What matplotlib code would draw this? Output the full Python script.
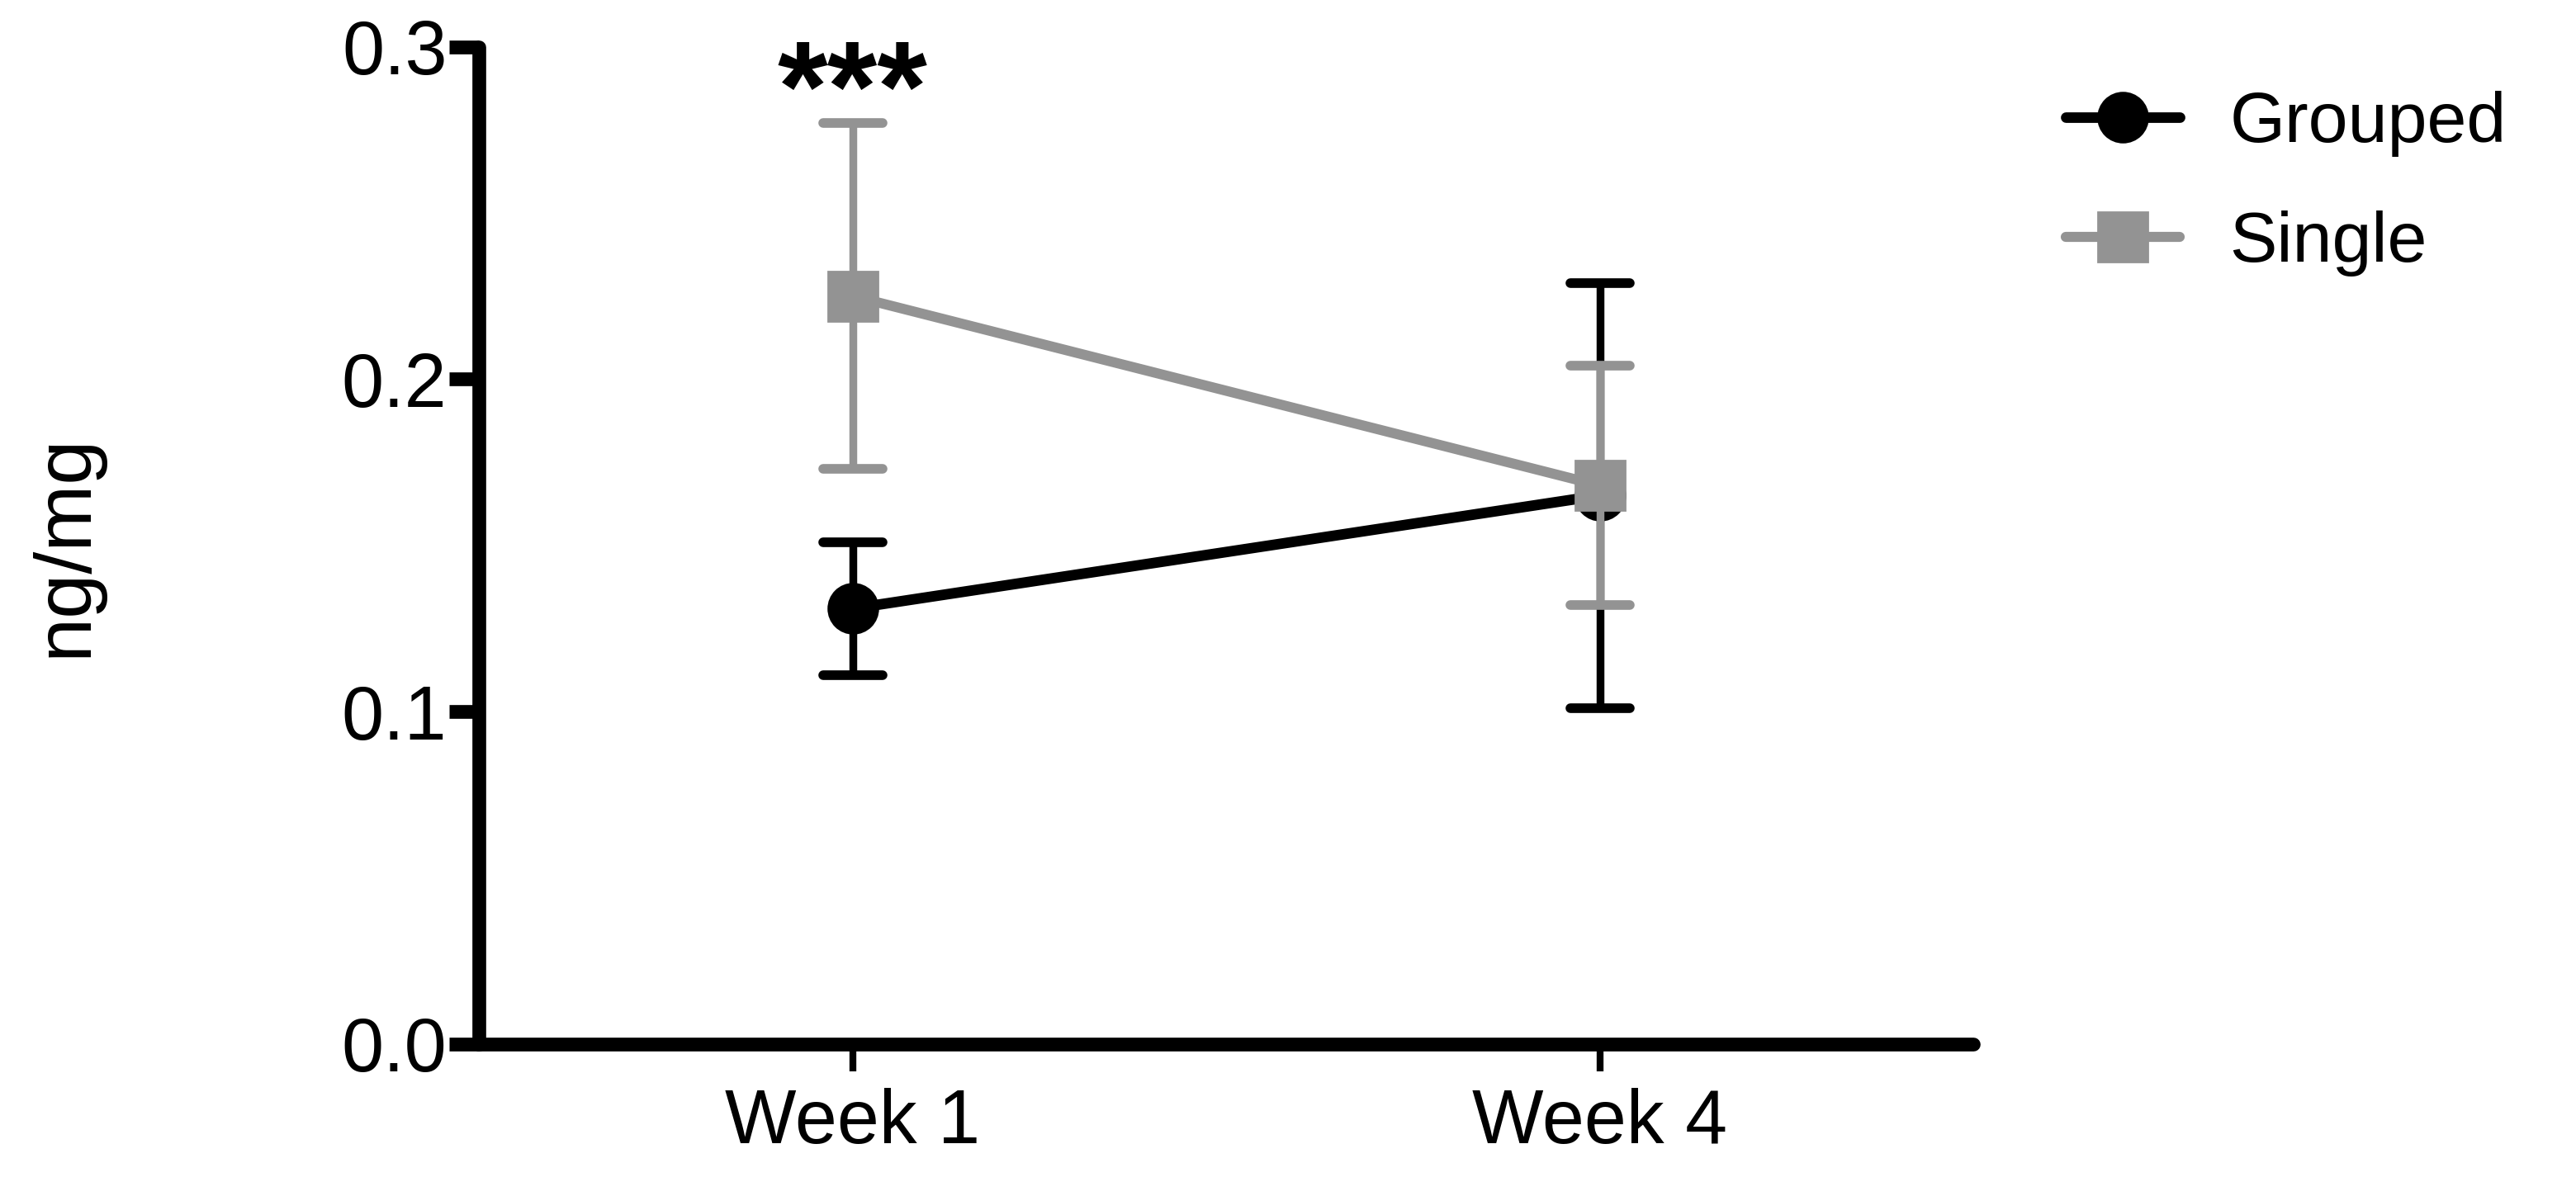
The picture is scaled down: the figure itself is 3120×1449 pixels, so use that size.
import matplotlib
matplotlib.use('Agg')
import matplotlib.pyplot as plt
from matplotlib.markers import MarkerStyle

plt.rcParams['font.family'] = ['Liberation Sans', 'DejaVu Sans']

weeks = ['Week 1', 'Week 4']
grouped_mean = [0.131, 0.165]
grouped_err = [0.020, 0.064]
single_mean = [0.225, 0.168]
single_err = [0.052, 0.036]
yticks = [0.0, 0.1, 0.2, 0.3]
grey = '#939393'

fig = plt.figure(figsize=(15.6, 7.245), dpi=200)
ax = fig.add_axes([0.186, 0.127, 0.580, 0.834])
x = list(range(len(weeks)))

series = [
    ('Grouped', grouped_mean, grouped_err, 'black', 'o', 4.6, 3),
    ('Single', single_mean, single_err, grey, 's', 4.4, 4),
]
handles, names = [], []
for name, m, e, c, mk, lw, z in series:
    line, caps, bars = ax.errorbar(x, m, yerr=e, color=c, lw=lw, marker=mk,
                                   ms=21.5, elinewidth=3.4, capsize=13,
                                   capthick=4.2, zorder=z)
    line.set_solid_capstyle('round')
    for cl in caps:
        cl.set_marker(MarkerStyle('_', capstyle='round'))
    handles.append(line)
    names.append(name)

ax.text(0, 0.2748, '***', ha='center', va='baseline', fontsize=56,
        fontweight='bold')

ax.set_xlim(-0.5, 1.5)
ax.set_ylim(0, 0.3)
ax.set_xticks(x)
ax.set_xticklabels(weeks)
ax.set_yticks(yticks)
ax.set_yticklabels([f'{v:.1f}' for v in yticks])
for s in ['top', 'right']:
    ax.spines[s].set_visible(False)
for s in ['left', 'bottom']:
    ax.spines[s].set_linewidth(6)
    ax.spines[s].set_capstyle('round')
ax.tick_params(axis='y', length=13, width=6, labelsize=33, pad=1)
ax.tick_params(axis='x', length=12, width=3, labelsize=33, pad=7)

fig.text(0.0256, 0.544, 'ng/mg', rotation=90, ha='center', va='center',
         fontsize=35)

ax.legend(handles, names, loc='upper left',
          bbox_to_anchor=(0.802, 0.924), bbox_transform=fig.transFigure,
          frameon=False, fontsize=31, borderpad=0, borderaxespad=0,
          handlelength=1.6, handletextpad=0.7, labelspacing=0.75)

fig.savefig('out.png', dpi=200)
